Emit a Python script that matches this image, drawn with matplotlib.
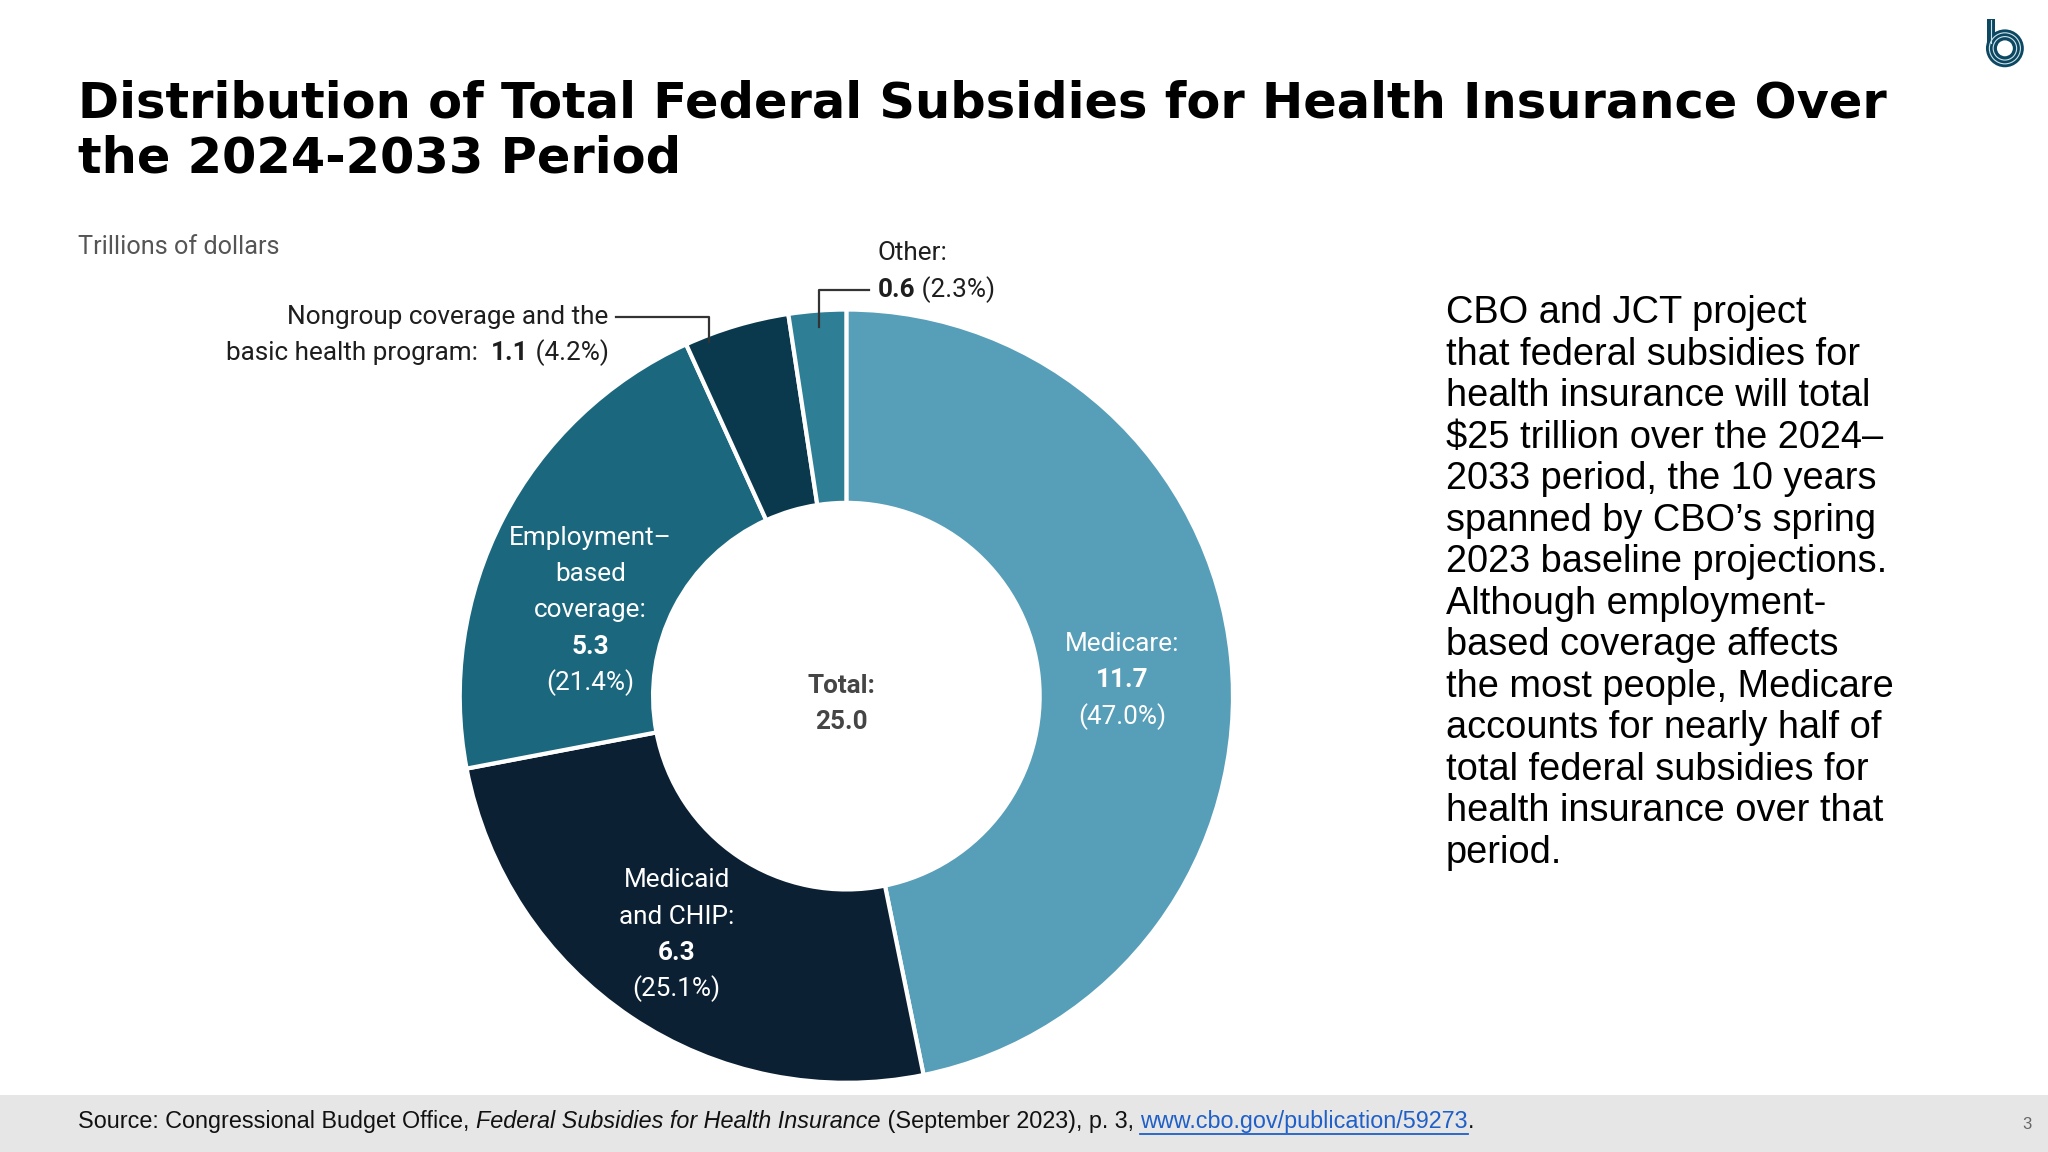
import matplotlib
matplotlib.use('Agg')
import matplotlib.pyplot as plt
from matplotlib.patches import Rectangle, Circle
from matplotlib.lines import Line2D

# ---------------- data ----------------
categories = ['Medicare', 'Medicaid and CHIP', 'Employment-based coverage',
              'Nongroup coverage and the basic health program', 'Other']
values = [11.7, 6.3, 5.3, 1.1, 0.6]
percents = [47.0, 25.1, 21.4, 4.2, 2.3]
total = 25.0
colors = ['#579eb8', '#0c2034', '#1b687e', '#0a394e', '#2e7f96']

title_lines = ['Distribution of Total Federal Subsidies for Health Insurance Over',
               'the 2024-2033 Period']
subtitle = 'Trillions of dollars'
side_text = ['CBO and JCT project', 'that federal subsidies for',
             'health insurance will total', '$25 trillion over the 2024\u2013',
             '2033 period, the 10 years', 'spanned by CBO\u2019s spring',
             '2023 baseline projections.', 'Although employment-',
             'based coverage affects', 'the most people, Medicare',
             'accounts for nearly half of', 'total federal subsidies for',
             'health insurance over that', 'period.']

# ---------------- layout helpers ----------------
W, H = 1568, 882
fig = plt.figure(figsize=(20.48, 11.52), dpi=100)
fig.patch.set_facecolor('white')
renderer = fig.canvas.get_renderer()


def fx(x):
    return x / W


def fy(y):
    return 1 - y / H


LAB = ['Liberation Sans Narrow', 'Roboto', 'DejaVu Sans']
SANS = ['Liberation Sans', 'DejaVu Sans']


def seg_width(s, **kw):
    t1 = fig.text(0, 0, '|' + s + '|', **kw)
    t2 = fig.text(0, 0, '||', **kw)
    w = t1.get_window_extent(renderer).width - t2.get_window_extent(renderer).width
    t1.remove(); t2.remove()
    return w


def runs(x, y, segs, ha='left', **common):
    ws = []
    for s, kw in segs:
        k = dict(common); k.update(kw)
        ws.append(seg_width(s, **k))
    tot = sum(ws)
    px = x / W * fig.bbox.width
    if ha == 'center':
        px -= tot / 2
    elif ha == 'right':
        px -= tot
    out = []
    for (s, kw), w in zip(segs, ws):
        k = dict(common); k.update(kw)
        t = fig.text(px / fig.bbox.width, fy(y), s, ha='left', va='center', **k)
        out.append((t, px, w))
        px += w
    return out


# ---------------- title ----------------
tkw = dict(fontweight='bold', family=['DejaVu Sans'], color='black')
target = (1446 - 60) / W * fig.bbox.width
w0 = seg_width(title_lines[0], fontsize=30, **tkw)
tfs = 30 * target / w0
for i, line in enumerate(title_lines):
    fig.text(fx(60), fy(79 + 42 * i), line, ha='left', va='center',
             fontsize=tfs, **tkw)

fig.text(fx(60), fy(189), subtitle, ha='left', va='center', fontsize=18.2,
         family=LAB, color='#555555')

# ---------------- donut ----------------
R = 296
cx, cy = 648, 533
ax = fig.add_axes([fx(cx - R), fy(cy + R), 2 * R / W, 2 * R / H])
ax.pie(values, colors=colors, startangle=90, counterclock=False, radius=1,
       wedgeprops=dict(width=0.5, edgecolor='white', linewidth=3))
ax.set_xlim(-1, 1)
ax.set_ylim(-1, 1)
ax.set_aspect('equal')
ax.axis('off')

LS = 27.7  # label line spacing (ref units)
FS = 18.8
white = dict(color='white', family=LAB, fontsize=FS)

# Medicare
fig.text(fx(859), fy(493), 'Medicare:', ha='center', va='center', **white)
fig.text(fx(859), fy(493 + LS), f'{values[0]:.1f}', ha='center', va='center',
         fontweight='bold', **white)
fig.text(fx(859), fy(493 + 2 * LS), f'({percents[0]:.1f}%)', ha='center', va='center', **white)

# Employment-based
emp = ['Employment\u2013', 'based', 'coverage:']
for i, s in enumerate(emp):
    fig.text(fx(452), fy(412 + LS * i), s, ha='center', va='center', **white)
fig.text(fx(452), fy(412 + LS * 3), f'{values[2]:.1f}', ha='center', va='center',
         fontweight='bold', **white)
fig.text(fx(452), fy(412 + LS * 4), f'({percents[2]:.1f}%)', ha='center', va='center', **white)

# Medicaid
for i, s in enumerate(['Medicaid', 'and CHIP:']):
    fig.text(fx(518), fy(674 + LS * i), s, ha='center', va='center', **white)
fig.text(fx(518), fy(674 + LS * 2), f'{values[1]:.1f}', ha='center', va='center',
         fontweight='bold', **white)
fig.text(fx(518), fy(674 + LS * 3), f'({percents[1]:.1f}%)', ha='center', va='center', **white)

# Total
fig.text(fx(644), fy(525), 'Total:', ha='center', va='center', color='#454545',
         family=LAB, fontsize=FS, fontweight='bold')
fig.text(fx(644), fy(553), f'{total:.1f}', ha='center', va='center', color='#454545',
         family=LAB, fontsize=FS, fontweight='bold')

dark = dict(color='#1e1e1e', family=LAB, fontsize=FS)
# Other
fig.text(fx(672), fy(194), 'Other:', ha='left', va='center', **dark)
runs(672, 222, [(f'{values[4]:.1f}', dict(fontweight='bold')),
                (f' ({percents[4]:.1f}%)', {})], **dark)
fig.lines.append(Line2D([fx(627), fx(627), fx(665)], [fy(250), fy(222), fy(222)],
                        transform=fig.transFigure, color='#333333', lw=1.6))

# Nongroup
fig.text(fx(466), fy(243), 'Nongroup coverage and the', ha='right', va='center', **dark)
runs(466, 270, [('basic health program:  ', {}), (f'{values[3]:.1f}', dict(fontweight='bold')),
                (f' ({percents[3]:.1f}%)', {})], ha='right', **dark)
fig.lines.append(Line2D([fx(472), fx(543), fx(543)], [fy(243), fy(243), fy(262)],
                        transform=fig.transFigure, color='#333333', lw=1.6))

# ---------------- side text ----------------
for i, s in enumerate(side_text):
    fig.text(fx(1107), fy(240 + 31.77 * i), s, ha='left', va='center',
             fontsize=27.4, family=SANS, color='black')

# ---------------- footer ----------------
fig.patches.append(Rectangle((0, 0), 1, fy(838), transform=fig.transFigure,
                             facecolor='#e6e6e6', edgecolor='none', zorder=-1))
fsty = dict(family=SANS, fontsize=16.8, color='#111111')
parts = runs(60, 859, [('Source: Congressional Budget Office, ', {}),
                       ('Federal Subsidies for Health Insurance', dict(fontstyle='italic')),
                       (' (September 2023), p. 3, ', {}),
                       ('www.cbo.gov/publication/59273', dict(color='#1f5fc8')),
                       ('.', {})], **fsty)
t, px0, w = parts[3]
uy = fy(859) - 12 / fig.bbox.height
fig.lines.append(Line2D([px0 / fig.bbox.width, (px0 + w) / fig.bbox.width], [uy, uy],
                        transform=fig.transFigure, color='#1f5fc8', lw=1.3))
fig.text(fx(1552), fy(861), '3', ha='center', va='center', fontsize=12,
         family=SANS, color='#666666')

# ---------------- logo ----------------
lx, ly, lr = 1535, 37, 14.5
lax = fig.add_axes([fx(lx - 2 * lr), fy(ly + 2 * lr), 4 * lr / W, 4 * lr / H])
lax.set_xlim(-2, 2); lax.set_ylim(-2, 2); lax.set_aspect('equal'); lax.axis('off')
navy = '#0d4862'
lax.add_patch(Rectangle((-0.95, 0), 0.42, 1.55, facecolor=navy, edgecolor='none'))
lax.add_patch(Circle((0, 0), 1.0, facecolor=navy, edgecolor='none'))
for rr in (0.82, 0.62):
    lax.add_patch(Circle((0, 0), rr, facecolor='none', edgecolor='#cfe3ea', lw=0.8))
lax.add_patch(Circle((0, 0), 0.42, facecolor='white', edgecolor='none'))
lax.plot([-0.74, -0.74], [0.3, 1.5], color='#cfe3ea', lw=0.8)

fig.savefig('out.png', dpi=100)
